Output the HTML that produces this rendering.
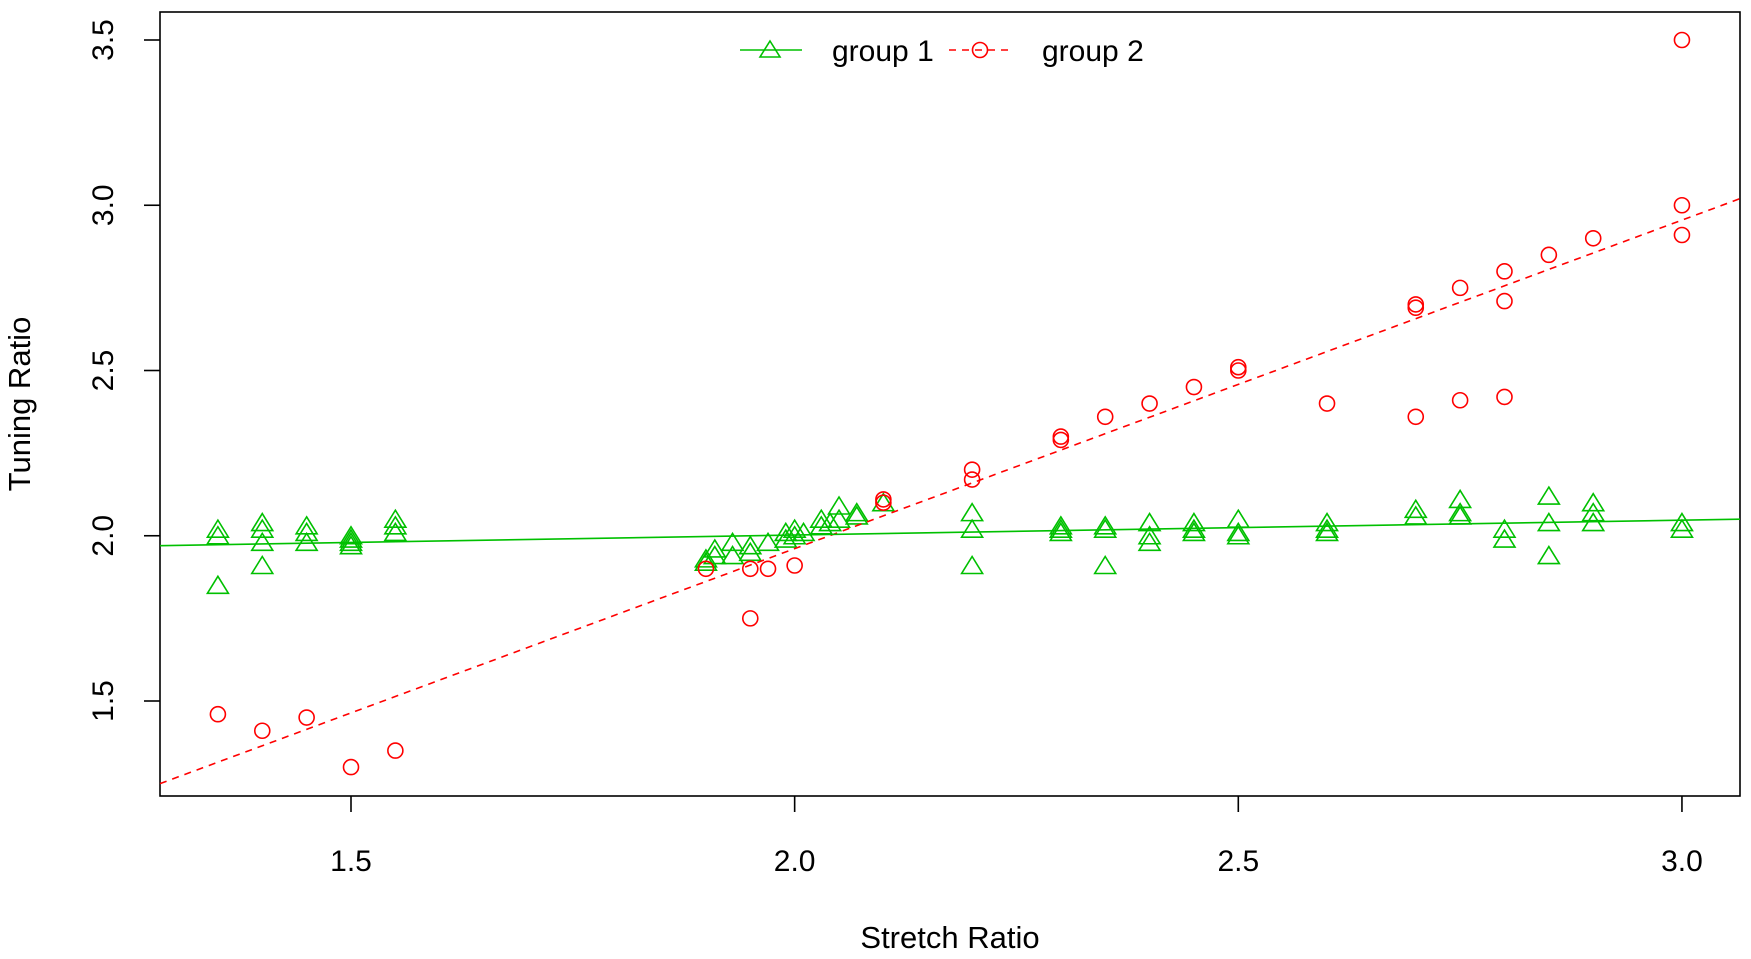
<!DOCTYPE html>
<html><head><meta charset="utf-8"><style>
html,body{margin:0;padding:0;background:#fff;width:1751px;height:959px;overflow:hidden}
svg text{font-family:"Liberation Sans",Arial,sans-serif;fill:#000}
</style></head><body>
<svg id="s" width="1751" height="959" xmlns="http://www.w3.org/2000/svg">
<rect x="160" y="12" width="1580" height="784" fill="none" stroke="#000" stroke-width="1.6"/>
<g id="ax" stroke="#000" stroke-width="1.6"></g>
<g id="pts" fill="none" stroke-width="1.6"></g>
<text x="950" y="948" font-size="31" text-anchor="middle">Stretch Ratio</text>
<text transform="translate(30,404) rotate(-90)" font-size="31" text-anchor="middle">Tuning Ratio</text>
<line x1="740" y1="50" x2="802" y2="50" stroke="#00c000" stroke-width="1.6"/>
<polygon points="770,41 780,57 760,57" fill="none" stroke="#00c000" stroke-width="1.6"/>
<text x="832" y="61" font-size="30">group 1</text>
<line x1="949" y1="50" x2="1011" y2="50" stroke="#ff0000" stroke-width="1.6" stroke-dasharray="7,6"/>
<circle cx="980" cy="50" r="7.5" fill="none" stroke="#ff0000" stroke-width="1.6"/>
<text x="1042" y="61" font-size="30">group 2</text>
</svg>
<script>
var X=v=>351+(v-1.5)*887.3, Y=v=>701-(v-1.5)*330.5;
var ns="http://www.w3.org/2000/svg",s=document.getElementById('s'),ax=document.getElementById('ax'),pts=document.getElementById('pts');
function el(p,t,a){var e=document.createElementNS(ns,t);for(var k in a)e.setAttribute(k,a[k]);p.appendChild(e);return e;}
[1.5,2.0,2.5,3.0].forEach(v=>{el(ax,'line',{x1:X(v),x2:X(v),y1:796,y2:812});var t=el(s,'text',{x:X(v),y:871,'font-size':30,'text-anchor':'middle'});t.textContent=v.toFixed(1);});
[1.5,2.0,2.5,3.0,3.5].forEach(v=>{el(ax,'line',{x1:144,x2:160,y1:Y(v),y2:Y(v)});var t=el(s,'text',{transform:'translate(113,'+Y(v)+') rotate(-90)','font-size':30,'text-anchor':'middle'});t.textContent=v.toFixed(1);});
el(s,'line',{x1:160,y1:Y(1.25),x2:1740,y2:Y(3.02),stroke:'#ff0000','stroke-width':1.6,'stroke-dasharray':'7,6'});
el(s,'line',{x1:160,y1:Y(1.97),x2:1740,y2:Y(2.05),stroke:'#00c000','stroke-width':1.6});
var g=[[1.35,[2.02,2.0,1.85]],[1.4,[2.04,2.02,1.98,1.91]],[1.45,[2.03,2.01,1.98]],[1.5,[2.0,1.99,1.98,1.97]],[1.55,[2.05,2.03,2.01]],
[1.9,[1.93,1.92]],[1.91,[1.96,1.94]],[1.93,[1.98,1.94]],[1.95,[1.97,1.95]],[1.97,[1.98]],[1.99,[2.01,1.99]],[2.0,[2.02,2.0]],[2.01,[2.01]],[2.03,[2.05,2.03]],[2.04,[2.04]],[2.05,[2.09,2.05]],[2.07,[2.07,2.06]],[2.1,[2.1]],
[2.2,[2.07,2.02,1.91]],[2.3,[2.03,2.02,2.01]],[2.35,[2.03,2.02,1.91]],[2.4,[2.04,2.0,1.98]],[2.45,[2.04,2.02,2.01]],[2.5,[2.05,2.01,2.0]],[2.6,[2.04,2.02,2.01]],[2.7,[2.08,2.06]],[2.75,[2.11,2.07,2.06]],[2.8,[2.02,1.99]],[2.85,[2.12,2.04,1.94]],[2.9,[2.1,2.07,2.04]],[3.0,[2.04,2.02]]];
g.forEach(a=>a[1].forEach(y=>{var cx=X(a[0]),cy=Y(y);el(pts,'polygon',{points:(cx)+','+(cy-9)+' '+(cx+10.5)+','+(cy+8)+' '+(cx-10.5)+','+(cy+8),stroke:'#00c000'});}));
var r=[[1.35,[1.46]],[1.4,[1.41]],[1.45,[1.45]],[1.5,[1.3]],[1.55,[1.35]],[1.9,[1.9]],[1.95,[1.9,1.75]],[1.97,[1.9]],[2.0,[1.91]],[2.1,[2.11,2.1]],[2.2,[2.2,2.17]],[2.3,[2.3,2.29]],[2.35,[2.36]],[2.4,[2.4]],[2.45,[2.45]],[2.5,[2.51,2.5]],[2.6,[2.4]],[2.7,[2.7,2.69,2.36]],[2.75,[2.75,2.41]],[2.8,[2.8,2.71,2.42]],[2.85,[2.85]],[2.9,[2.9]],[3.0,[3.5,3.0,2.91]]];
r.forEach(a=>a[1].forEach(y=>el(pts,'circle',{cx:X(a[0]),cy:Y(y),r:7.5,stroke:'#ff0000'})));
</script>
</body></html>
